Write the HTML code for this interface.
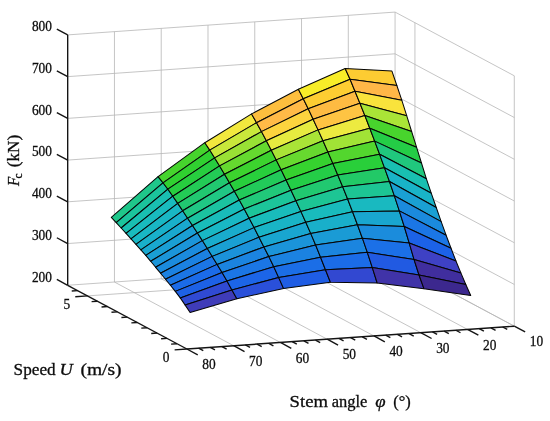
<!DOCTYPE html>
<html><head><meta charset="utf-8"><title>Surface plot</title>
<style>
html,body{margin:0;padding:0;background:#fff;}
svg{display:block}
.g{stroke:#b6b6b6;stroke-width:0.8;fill:none}
.a{stroke:#141414;stroke-width:1.4;fill:none;stroke-linecap:butt}
.s{stroke:#050505;stroke-width:1.02;stroke-linejoin:round}
.t{font-family:"Liberation Serif",serif;font-size:13.8px;fill:#0c0c0c;stroke:#0c0c0c;stroke-width:0.28px}
.l{font-family:"Liberation Serif",serif;font-size:16.7px;fill:#0c0c0c;stroke:#0c0c0c;stroke-width:0.3px}
.i{font-style:italic}
.sub{font-size:11.5px}
</style></head><body>
<svg width="550" height="421" viewBox="0 0 550 421">
<rect width="550" height="421" fill="#fff"/>
<line x1="395.07" y1="262.46" x2="395.07" y2="12.08" class="g"/>
<line x1="348.30" y1="265.72" x2="348.30" y2="15.34" class="g"/>
<line x1="301.53" y1="268.98" x2="301.53" y2="18.60" class="g"/>
<line x1="254.76" y1="272.24" x2="254.76" y2="21.86" class="g"/>
<line x1="207.99" y1="275.50" x2="207.99" y2="25.12" class="g"/>
<line x1="161.22" y1="278.76" x2="161.22" y2="28.38" class="g"/>
<line x1="114.45" y1="282.02" x2="114.45" y2="31.64" class="g"/>
<line x1="67.68" y1="285.28" x2="395.07" y2="262.46" class="g"/>
<line x1="67.68" y1="243.55" x2="395.07" y2="220.73" class="g"/>
<line x1="67.68" y1="201.82" x2="395.07" y2="179.00" class="g"/>
<line x1="67.68" y1="160.09" x2="395.07" y2="137.27" class="g"/>
<line x1="67.68" y1="118.36" x2="395.07" y2="95.54" class="g"/>
<line x1="67.68" y1="76.63" x2="395.07" y2="53.81" class="g"/>
<line x1="67.68" y1="34.90" x2="395.07" y2="12.08" class="g"/>
<line x1="514.29" y1="326.18" x2="514.29" y2="75.80" class="g"/>
<line x1="414.94" y1="273.08" x2="414.94" y2="22.70" class="g"/>
<line x1="395.07" y1="262.46" x2="514.29" y2="326.18" class="g"/>
<line x1="395.07" y1="220.73" x2="514.29" y2="284.45" class="g"/>
<line x1="395.07" y1="179.00" x2="514.29" y2="242.72" class="g"/>
<line x1="395.07" y1="137.27" x2="514.29" y2="200.99" class="g"/>
<line x1="395.07" y1="95.54" x2="514.29" y2="159.26" class="g"/>
<line x1="395.07" y1="53.81" x2="514.29" y2="117.53" class="g"/>
<line x1="395.07" y1="12.08" x2="514.29" y2="75.80" class="g"/>
<line x1="514.29" y1="326.18" x2="395.07" y2="262.46" class="g"/>
<line x1="467.52" y1="329.44" x2="348.30" y2="265.72" class="g"/>
<line x1="420.75" y1="332.70" x2="301.53" y2="268.98" class="g"/>
<line x1="373.98" y1="335.96" x2="254.76" y2="272.24" class="g"/>
<line x1="327.21" y1="339.22" x2="207.99" y2="275.50" class="g"/>
<line x1="280.44" y1="342.48" x2="161.22" y2="278.76" class="g"/>
<line x1="233.67" y1="345.74" x2="114.45" y2="282.02" class="g"/>
<line x1="87.55" y1="295.90" x2="414.94" y2="273.08" class="g"/>
<polygon points="111.30,217.40 158.07,176.60 163.00,182.80 116.22,222.70" fill="#1fc78a" class="s"/>
<polygon points="158.07,176.60 204.84,142.70 209.77,150.10 163.00,182.80" fill="#46d42d" class="s"/>
<polygon points="204.84,142.70 251.61,113.90 256.54,122.70 209.77,150.10" fill="#f2e83e" class="s"/>
<polygon points="251.61,113.90 298.38,89.30 303.31,98.80 256.54,122.70" fill="#fdbe3e" class="s"/>
<polygon points="298.38,89.30 345.15,68.50 350.08,79.30 303.31,98.80" fill="#f8ed28" class="s"/>
<polygon points="345.15,68.50 391.92,71.10 396.85,85.50 350.08,79.30" fill="#fdcc32" class="s"/>
<polygon points="116.22,222.70 163.00,182.80 167.92,189.20 121.15,228.00" fill="#1bc49c" class="s"/>
<polygon points="163.00,182.80 209.77,150.10 214.69,157.90 167.92,189.20" fill="#30d130" class="s"/>
<polygon points="209.77,150.10 256.54,122.70 261.46,131.60 214.69,157.90" fill="#c9e83b" class="s"/>
<polygon points="256.54,122.70 303.31,98.80 308.23,108.80 261.46,131.60" fill="#ffba47" class="s"/>
<polygon points="303.31,98.80 350.08,79.30 355.00,91.20 308.23,108.80" fill="#fdcd32" class="s"/>
<polygon points="350.08,79.30 396.85,85.50 401.77,100.20 355.00,91.20" fill="#ffb747" class="s"/>
<polygon points="121.15,228.00 167.92,189.20 172.84,196.20 126.07,233.40" fill="#19bfb1" class="s"/>
<polygon points="167.92,189.20 214.69,157.90 219.62,165.90 172.84,196.20" fill="#27ce3f" class="s"/>
<polygon points="214.69,157.90 261.46,131.60 266.38,140.80 219.62,165.90" fill="#99e135" class="s"/>
<polygon points="261.46,131.60 308.23,108.80 313.15,119.20 266.38,140.80" fill="#fcd43e" class="s"/>
<polygon points="308.23,108.80 355.00,91.20 359.93,103.20 313.15,119.20" fill="#febb42" class="s"/>
<polygon points="355.00,91.20 401.77,100.20 406.69,115.70 359.93,103.20" fill="#f9e33c" class="s"/>
<polygon points="126.07,233.40 172.84,196.20 177.77,203.40 131.00,238.80" fill="#19bbbe" class="s"/>
<polygon points="172.84,196.20 219.62,165.90 224.54,174.30 177.77,203.40" fill="#23cb56" class="s"/>
<polygon points="219.62,165.90 266.38,140.80 271.31,150.30 224.54,174.30" fill="#65d92f" class="s"/>
<polygon points="266.38,140.80 313.15,119.20 318.08,129.90 271.31,150.30" fill="#e6eb40" class="s"/>
<polygon points="313.15,119.20 359.93,103.20 364.85,115.50 318.08,129.90" fill="#fec443" class="s"/>
<polygon points="359.93,103.20 406.69,115.70 411.62,131.50 364.85,115.50" fill="#aae437" class="s"/>
<polygon points="131.00,238.80 177.77,203.40 182.69,210.80 135.93,244.30" fill="#19b7c4" class="s"/>
<polygon points="177.77,203.40 224.54,174.30 229.47,182.80 182.69,210.80" fill="#21c870" class="s"/>
<polygon points="224.54,174.30 271.31,150.30 276.24,159.90 229.47,182.80" fill="#3cd32e" class="s"/>
<polygon points="271.31,150.30 318.08,129.90 323.00,140.80 276.24,159.90" fill="#a9e437" class="s"/>
<polygon points="318.08,129.90 364.85,115.50 369.78,128.20 323.00,140.80" fill="#edea40" class="s"/>
<polygon points="364.85,115.50 411.62,131.50 416.55,147.20 369.78,128.20" fill="#48d42d" class="s"/>
<polygon points="135.93,244.30 182.69,210.80 187.62,218.20 140.85,249.80" fill="#19b0ca" class="s"/>
<polygon points="182.69,210.80 229.47,182.80 234.39,191.20 187.62,218.20" fill="#20c784" class="s"/>
<polygon points="229.47,182.80 276.24,159.90 281.16,169.80 234.39,191.20" fill="#28cf3c" class="s"/>
<polygon points="276.24,159.90 323.00,140.80 327.93,152.00 281.16,169.80" fill="#67d92f" class="s"/>
<polygon points="323.00,140.80 369.78,128.20 374.70,141.10 327.93,152.00" fill="#a1e336" class="s"/>
<polygon points="369.78,128.20 416.55,147.20 421.47,163.00 374.70,141.10" fill="#24cd46" class="s"/>
<polygon points="140.85,249.80 187.62,218.20 192.54,225.50 145.78,255.40" fill="#19a8cf" class="s"/>
<polygon points="187.62,218.20 234.39,191.20 239.31,200.00 192.54,225.50" fill="#1bc3a0" class="s"/>
<polygon points="234.39,191.20 281.16,169.80 286.09,180.00 239.31,200.00" fill="#22ca5a" class="s"/>
<polygon points="281.16,169.80 327.93,152.00 332.86,163.40 286.09,180.00" fill="#36d22f" class="s"/>
<polygon points="327.93,152.00 374.70,141.10 379.63,154.30 332.86,163.40" fill="#53d62e" class="s"/>
<polygon points="374.70,141.10 421.47,163.00 426.40,178.80 379.63,154.30" fill="#20c77d" class="s"/>
<polygon points="145.78,255.40 192.54,225.50 197.47,233.00 150.70,261.30" fill="#1a9fd4" class="s"/>
<polygon points="192.54,225.50 239.31,200.00 244.24,209.00 197.47,233.00" fill="#19bcba" class="s"/>
<polygon points="239.31,200.00 286.09,180.00 291.01,190.30 244.24,209.00" fill="#21c87a" class="s"/>
<polygon points="286.09,180.00 332.86,163.40 337.78,175.00 291.01,190.30" fill="#24cd47" class="s"/>
<polygon points="332.86,163.40 379.63,154.30 384.55,167.80 337.78,175.00" fill="#29cf3a" class="s"/>
<polygon points="379.63,154.30 426.40,178.80 431.32,193.30 384.55,167.80" fill="#19bfb1" class="s"/>
<polygon points="150.70,261.30 197.47,233.00 202.39,240.60 155.62,267.30" fill="#1b95d9" class="s"/>
<polygon points="197.47,233.00 244.24,209.00 249.16,218.20 202.39,240.60" fill="#19b7c4" class="s"/>
<polygon points="244.24,209.00 291.01,190.30 295.94,200.80 249.16,218.20" fill="#1cc59a" class="s"/>
<polygon points="291.01,190.30 337.78,175.00 342.70,186.80 295.94,200.80" fill="#21c870" class="s"/>
<polygon points="337.78,175.00 384.55,167.80 389.48,181.50 342.70,186.80" fill="#22c967" class="s"/>
<polygon points="384.55,167.80 431.32,193.30 436.25,207.50 389.48,181.50" fill="#19b3c7" class="s"/>
<polygon points="155.62,267.30 202.39,240.60 207.32,248.50 160.55,273.20" fill="#1b8bdd" class="s"/>
<polygon points="202.39,240.60 249.16,218.20 254.09,227.60 207.32,248.50" fill="#19accc" class="s"/>
<polygon points="249.16,218.20 295.94,200.80 300.86,211.40 254.09,227.60" fill="#19bcbb" class="s"/>
<polygon points="295.94,200.80 342.70,186.80 347.63,199.00 300.86,211.40" fill="#1dc594" class="s"/>
<polygon points="342.70,186.80 389.48,181.50 394.40,195.80 347.63,199.00" fill="#1dc594" class="s"/>
<polygon points="389.48,181.50 436.25,207.50 441.17,221.60 394.40,195.80" fill="#1aa0d3" class="s"/>
<polygon points="160.55,273.20 207.32,248.50 212.25,256.40 165.47,279.20" fill="#1b81e1" class="s"/>
<polygon points="207.32,248.50 254.09,227.60 259.01,237.20 212.25,256.40" fill="#1aa0d3" class="s"/>
<polygon points="254.09,227.60 300.86,211.40 305.79,222.20 259.01,237.20" fill="#19b4c6" class="s"/>
<polygon points="300.86,211.40 347.63,199.00 352.56,211.70 305.79,222.20" fill="#19bbbd" class="s"/>
<polygon points="347.63,199.00 394.40,195.80 399.33,210.90 352.56,211.70" fill="#19b9c0" class="s"/>
<polygon points="394.40,195.80 441.17,221.60 446.10,235.20 399.33,210.90" fill="#1b8add" class="s"/>
<polygon points="165.47,279.20 212.25,256.40 217.17,264.40 170.40,285.20" fill="#1b76e5" class="s"/>
<polygon points="212.25,256.40 259.01,237.20 263.94,246.90 217.17,264.40" fill="#1b92da" class="s"/>
<polygon points="259.01,237.20 305.79,222.20 310.71,233.40 263.94,246.90" fill="#19a6d0" class="s"/>
<polygon points="305.79,222.20 352.56,211.70 357.48,224.80 310.71,233.40" fill="#19afca" class="s"/>
<polygon points="352.56,211.70 399.33,210.90 404.25,226.50 357.48,224.80" fill="#19a6cf" class="s"/>
<polygon points="399.33,210.90 446.10,235.20 451.02,248.30 404.25,226.50" fill="#1b76e5" class="s"/>
<polygon points="170.40,285.20 217.17,264.40 222.09,272.50 175.32,291.40" fill="#1b6be8" class="s"/>
<polygon points="217.17,264.40 263.94,246.90 268.87,256.60 222.09,272.50" fill="#1b84e0" class="s"/>
<polygon points="263.94,246.90 310.71,233.40 315.63,245.00 268.87,256.60" fill="#1b94d9" class="s"/>
<polygon points="310.71,233.40 357.48,224.80 362.40,238.20 315.63,245.00" fill="#1a9bd5" class="s"/>
<polygon points="357.48,224.80 404.25,226.50 409.18,242.90 362.40,238.20" fill="#1b8cdc" class="s"/>
<polygon points="404.25,226.50 451.02,248.30 455.94,261.00 409.18,242.90" fill="#1c62e7" class="s"/>
<polygon points="175.32,291.40 222.09,272.50 227.02,281.00 180.25,297.90" fill="#1d61e6" class="s"/>
<polygon points="222.09,272.50 268.87,256.60 273.79,266.70 227.02,281.00" fill="#1b76e5" class="s"/>
<polygon points="268.87,256.60 315.63,245.00 320.56,257.20 273.79,266.70" fill="#1b82e1" class="s"/>
<polygon points="315.63,245.00 362.40,238.20 367.33,252.30 320.56,257.20" fill="#1b85df" class="s"/>
<polygon points="362.40,238.20 409.18,242.90 414.10,259.60 367.33,252.30" fill="#1b70e7" class="s"/>
<polygon points="409.18,242.90 455.94,261.00 460.87,272.90 414.10,259.60" fill="#3e41c4" class="s"/>
<polygon points="180.25,297.90 227.02,281.00 231.94,289.90 185.18,305.10" fill="#304ad3" class="s"/>
<polygon points="227.02,281.00 273.79,266.70 278.72,277.60 231.94,289.90" fill="#1c65e7" class="s"/>
<polygon points="273.79,266.70 320.56,257.20 325.49,269.70 278.72,277.60" fill="#1b6ee7" class="s"/>
<polygon points="320.56,257.20 367.33,252.30 372.25,267.40 325.49,269.70" fill="#1b6ce8" class="s"/>
<polygon points="367.33,252.30 414.10,259.60 419.03,275.00 372.25,267.40" fill="#215ae2" class="s"/>
<polygon points="414.10,259.60 460.87,272.90 465.80,284.50 419.03,275.00" fill="#402e9e" class="s"/>
<polygon points="185.18,305.10 231.94,289.90 236.87,298.70 190.10,312.50" fill="#3f3cb9" class="s"/>
<polygon points="231.94,289.90 278.72,277.60 283.64,288.60 236.87,298.70" fill="#2a50da" class="s"/>
<polygon points="278.72,277.60 325.49,269.70 330.41,282.30 283.64,288.60" fill="#1f5de4" class="s"/>
<polygon points="325.49,269.70 372.25,267.40 377.18,283.00 330.41,282.30" fill="#3248d1" class="s"/>
<polygon points="372.25,267.40 419.03,275.00 423.95,288.70 377.18,283.00" fill="#4033a8" class="s"/>
<polygon points="419.03,275.00 465.80,284.50 470.72,295.50 423.95,288.70" fill="#3c288e" class="s"/>
<line x1="67.68" y1="285.28" x2="67.68" y2="34.90" class="a"/>
<line x1="67.68" y1="285.28" x2="186.90" y2="349.00" class="a"/>
<line x1="186.90" y1="349.00" x2="514.29" y2="326.18" class="a"/>
<line x1="514.29" y1="326.18" x2="525.14" y2="331.98" class="a"/>
<line x1="502.60" y1="327.00" x2="507.27" y2="329.49" class="a"/>
<line x1="490.90" y1="327.81" x2="495.58" y2="330.31" class="a"/>
<line x1="479.21" y1="328.62" x2="483.89" y2="331.12" class="a"/>
<line x1="467.52" y1="329.44" x2="478.37" y2="335.24" class="a"/>
<line x1="455.83" y1="330.25" x2="460.50" y2="332.75" class="a"/>
<line x1="444.13" y1="331.07" x2="448.81" y2="333.57" class="a"/>
<line x1="432.44" y1="331.88" x2="437.12" y2="334.38" class="a"/>
<line x1="420.75" y1="332.70" x2="431.60" y2="338.50" class="a"/>
<line x1="409.06" y1="333.51" x2="413.73" y2="336.01" class="a"/>
<line x1="397.37" y1="334.33" x2="402.04" y2="336.83" class="a"/>
<line x1="385.67" y1="335.14" x2="390.35" y2="337.64" class="a"/>
<line x1="373.98" y1="335.96" x2="384.83" y2="341.76" class="a"/>
<line x1="362.29" y1="336.77" x2="366.96" y2="339.27" class="a"/>
<line x1="350.60" y1="337.59" x2="355.27" y2="340.09" class="a"/>
<line x1="338.90" y1="338.40" x2="343.58" y2="340.90" class="a"/>
<line x1="327.21" y1="339.22" x2="338.06" y2="345.02" class="a"/>
<line x1="315.52" y1="340.04" x2="320.19" y2="342.53" class="a"/>
<line x1="303.82" y1="340.85" x2="308.50" y2="343.35" class="a"/>
<line x1="292.13" y1="341.67" x2="296.81" y2="344.16" class="a"/>
<line x1="280.44" y1="342.48" x2="291.29" y2="348.28" class="a"/>
<line x1="268.75" y1="343.30" x2="273.42" y2="345.79" class="a"/>
<line x1="257.06" y1="344.11" x2="261.73" y2="346.61" class="a"/>
<line x1="245.36" y1="344.93" x2="250.04" y2="347.42" class="a"/>
<line x1="233.67" y1="345.74" x2="244.52" y2="351.54" class="a"/>
<line x1="221.98" y1="346.56" x2="226.65" y2="349.05" class="a"/>
<line x1="210.28" y1="347.37" x2="214.96" y2="349.87" class="a"/>
<line x1="198.59" y1="348.19" x2="203.27" y2="350.68" class="a"/>
<line x1="186.90" y1="349.00" x2="197.75" y2="354.80" class="a"/>
<line x1="186.90" y1="349.00" x2="174.63" y2="349.86" class="a"/>
<line x1="176.97" y1="343.69" x2="171.08" y2="344.10" class="a"/>
<line x1="167.03" y1="338.38" x2="161.14" y2="338.79" class="a"/>
<line x1="157.09" y1="333.07" x2="151.21" y2="333.48" class="a"/>
<line x1="147.16" y1="327.76" x2="141.27" y2="328.17" class="a"/>
<line x1="137.22" y1="322.45" x2="131.34" y2="322.86" class="a"/>
<line x1="127.29" y1="317.14" x2="121.40" y2="317.55" class="a"/>
<line x1="117.36" y1="311.83" x2="111.47" y2="312.24" class="a"/>
<line x1="107.42" y1="306.52" x2="101.53" y2="306.93" class="a"/>
<line x1="97.48" y1="301.21" x2="91.60" y2="301.62" class="a"/>
<line x1="87.55" y1="295.90" x2="75.28" y2="296.76" class="a"/>
<line x1="77.61" y1="290.59" x2="71.73" y2="291.00" class="a"/>
<line x1="67.68" y1="285.28" x2="56.83" y2="279.48" class="a"/>
<line x1="67.68" y1="243.55" x2="56.83" y2="237.75" class="a"/>
<line x1="67.68" y1="201.82" x2="56.83" y2="196.02" class="a"/>
<line x1="67.68" y1="160.09" x2="56.83" y2="154.29" class="a"/>
<line x1="67.68" y1="118.36" x2="56.83" y2="112.56" class="a"/>
<line x1="67.68" y1="76.63" x2="56.83" y2="70.83" class="a"/>
<line x1="67.68" y1="34.90" x2="56.83" y2="29.10" class="a"/>
<text transform="translate(52.00,281.58) scale(0.97,1)" text-anchor="end" class="t">200</text>
<text transform="translate(52.00,239.85) scale(0.97,1)" text-anchor="end" class="t">300</text>
<text transform="translate(52.00,198.12) scale(0.97,1)" text-anchor="end" class="t">400</text>
<text transform="translate(52.00,156.39) scale(0.97,1)" text-anchor="end" class="t">500</text>
<text transform="translate(52.00,114.66) scale(0.97,1)" text-anchor="end" class="t">600</text>
<text transform="translate(52.00,72.93) scale(0.97,1)" text-anchor="end" class="t">700</text>
<text transform="translate(52.00,31.20) scale(0.97,1)" text-anchor="end" class="t">800</text>
<text transform="translate(536.39,346.38) scale(0.97,1)" text-anchor="middle" class="t">10</text>
<text transform="translate(489.62,349.64) scale(0.97,1)" text-anchor="middle" class="t">20</text>
<text transform="translate(442.85,352.90) scale(0.97,1)" text-anchor="middle" class="t">30</text>
<text transform="translate(396.08,356.16) scale(0.97,1)" text-anchor="middle" class="t">40</text>
<text transform="translate(349.31,359.42) scale(0.97,1)" text-anchor="middle" class="t">50</text>
<text transform="translate(302.54,362.68) scale(0.97,1)" text-anchor="middle" class="t">60</text>
<text transform="translate(255.77,365.94) scale(0.97,1)" text-anchor="middle" class="t">70</text>
<text transform="translate(209.00,369.20) scale(0.97,1)" text-anchor="middle" class="t">80</text>
<text transform="translate(166.10,362.10) scale(0.97,1)" text-anchor="middle" class="t">0</text>
<text transform="translate(66.75,309.00) scale(0.97,1)" text-anchor="middle" class="t">5</text>
<text y="375.4" class="l"><tspan x="13.60" textLength="42.02" lengthAdjust="spacingAndGlyphs">Speed</tspan> <tspan x="59.60" class="i" textLength="13.27" lengthAdjust="spacingAndGlyphs">U</tspan> <tspan x="80.40" textLength="41.22" lengthAdjust="spacingAndGlyphs">(m/s)</tspan></text>
<text y="406.5" class="l"><tspan x="289.60" textLength="38.33" lengthAdjust="spacingAndGlyphs">Stem</tspan> <tspan x="331.80" textLength="35.60" lengthAdjust="spacingAndGlyphs">angle</tspan> <tspan x="375.20" dy="0.8" class="i" textLength="10.34" lengthAdjust="spacingAndGlyphs">φ</tspan> <tspan x="393.20" dy="-0.8" textLength="17.53" lengthAdjust="spacingAndGlyphs">(°)</tspan></text>
<text transform="translate(19.2,185.9) rotate(-90)" class="l"><tspan x="0.00" class="i" textLength="9.18" lengthAdjust="spacingAndGlyphs">F</tspan><tspan x="7.3" dy="3.2" class="sub">c</tspan> <tspan x="18.60" dy="-3.2" textLength="32.46" lengthAdjust="spacingAndGlyphs">(kN)</tspan></text>
</svg>
</body></html>
